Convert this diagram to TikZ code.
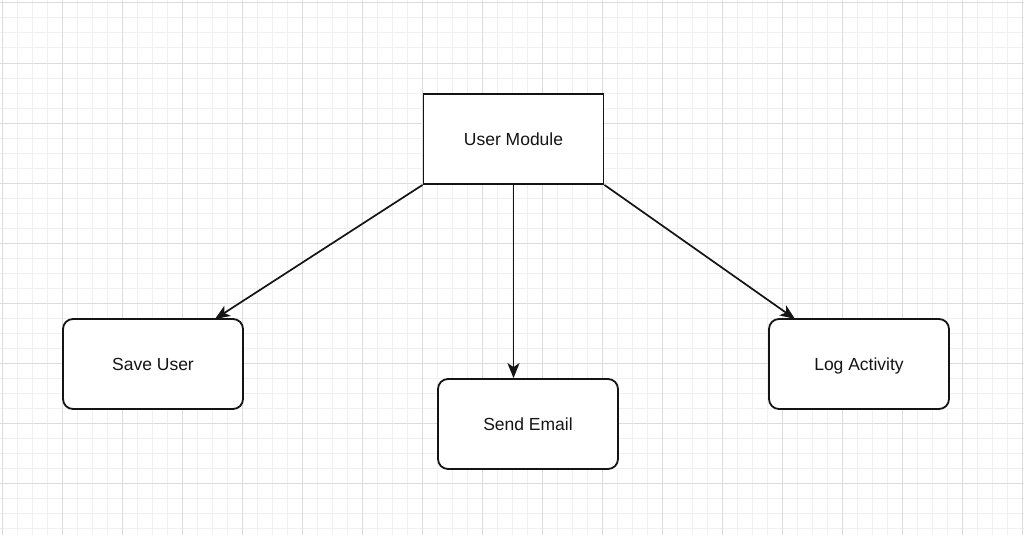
\documentclass[tikz,border=0pt]{standalone}
\usepackage{fontspec}
\setmainfont{Liberation Sans}
\usetikzlibrary{arrows.meta}
\definecolor{minorgrid}{HTML}{F0F0F0}
\definecolor{majorgrid}{HTML}{DCDCDC}
\definecolor{ink}{HTML}{141414}
\tikzset{
  box/.style={draw=ink, line width=1.8pt, fill=white, minimum width=180pt, minimum height=90pt, inner sep=0pt, text height=13pt, text depth=0.5pt, font=\fontsize{17.5}{21}\selectfont, text=ink},
  rbox/.style={box, rounded corners=10pt},
  conn/.style={draw=ink, line width=1.7pt, -{Stealth[length=15pt,width=12pt,inset=4pt]}}
}
\begin{document}
\begin{tikzpicture}[x=1pt,y=-1pt]
\useasboundingbox (0,0) rectangle (1024,535);
\fill[white] (0,0) rectangle (1024,535);
\foreach \i in {0,...,68} {
  \draw[minorgrid, line width=1pt] ({2+15*\i},0) -- ({2+15*\i},535);
}
\foreach \i in {0,...,35} {
  \draw[minorgrid, line width=1pt] (0,{3+15*\i}) -- (1024,{3+15*\i});
}
\foreach \i in {0,...,17} {
  \draw[majorgrid, line width=1pt] ({2+60*\i},0) -- ({2+60*\i},535);
}
\foreach \i in {0,...,8} {
  \draw[majorgrid, line width=1pt] (0,{3+60*\i}) -- (1024,{3+60*\i});
}
\node[box] (um) at (513.5,139) {User Module};
\node[rbox] (su) at (153,364) {Save User};
\node[rbox] (se) at (528,424) {Send Email};
\node[rbox] (la) at (859,364) {Log Activity};
\coordinate (sut) at (215,319);
\coordinate (lat) at (795,319);
\draw[conn] (um.south west) -- (sut);
\draw[conn] (um.south) -- (um.south |- se.north);
\draw[conn] (um.south east) -- (lat);
\end{tikzpicture}
\end{document}
